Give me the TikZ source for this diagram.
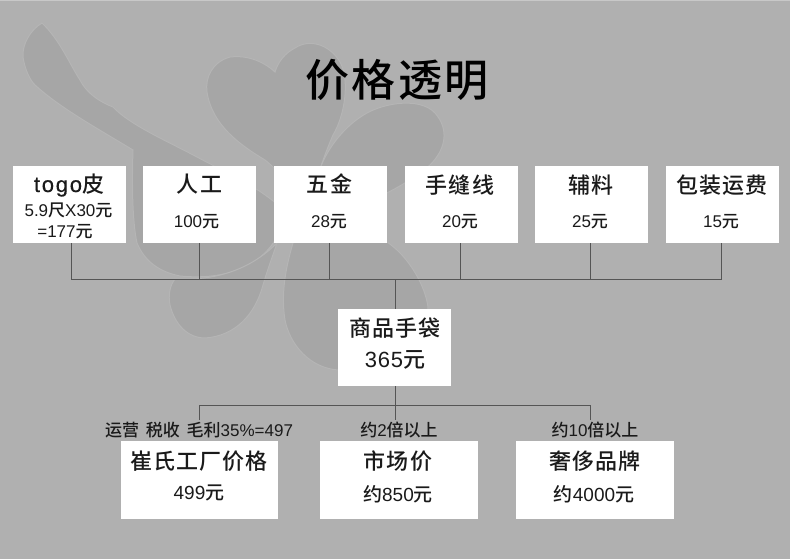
\documentclass[tikz,border=0pt]{standalone}
\usepackage{fontspec}
\setmainfont{Liberation Sans}
\newfontfamily\hz{Noto Sans CJK SC Medium}
\newfontfamily\hzs[LetterSpace=5]{Noto Sans CJK SC Medium}
\newfontfamily\latb[LetterSpace=8,FakeBold=0.4]{Liberation Sans}
\newfontfamily\lats[LetterSpace=4]{Liberation Sans}
\definecolor{bgc}{HTML}{B0B0B0}
\definecolor{wm}{HTML}{A6A6A6}
\definecolor{halo}{HTML}{B5B5B5}
\definecolor{ln}{HTML}{555555}
\definecolor{ink}{HTML}{1A1A1A}
\tikzset{
  card/.style={fill=white,draw=none,minimum width=#1,minimum height=77pt,inner sep=0pt},
  wire/.style={draw=ln,line width=0.9pt},
  big/.style={font=\fontsize{22}{24}\selectfont\hzs,text=ink},
  small/.style={font=\fontsize{17}{20}\selectfont,text=ink},
  lowtxt/.style={font=\fontsize{19}{22}\selectfont,text=ink},
  leaf/.style={fill=wm,draw=halo,line width=1pt},
}
\begin{document}
\begin{tikzpicture}[x=1pt,y=-1pt]
\useasboundingbox (0,0) rectangle (790,559);
\fill[bgc] (0,0) rectangle (790,559);
\fill[white!30!bgc] (0,0) rectangle (790,1);
% watermark: tail
\fill[leaf] (42,23) .. controls (30,30) and (22,45) .. (23,57) .. controls (25,70) and (30,80) .. (35,85)
  .. controls (60,108) and (100,130) .. (133,150) .. controls (132,180) and (132,220) .. (137,243)
  .. controls (145,262) and (160,272) .. (180,276) .. controls (220,280) and (260,270) .. (278,235)
  .. controls (280,225) and (280,215) .. (278,205) .. controls (255,185) and (225,172) .. (197,157)
  .. controls (165,140) and (130,125) .. (113,107) .. controls (95,100) and (85,90) .. (80,80)
  .. controls (70,65) and (60,40) .. (42,23) -- cycle;
% lower-left leaf
\fill[leaf] (175,279) .. controls (170,285) and (168,295) .. (170,305) .. controls (175,325) and (188,338) .. (205,338)
  .. controls (235,336) and (255,315) .. (263,285) .. controls (268,268) and (273,255) .. (277,243)
  .. controls (250,270) and (215,281) .. (175,279) -- cycle;
% top heart leaf
\fill[leaf] (275,72) .. controls (262,60) and (245,55) .. (230,57) .. controls (212,62) and (205,78) .. (207,92)
  .. controls (212,125) and (240,145) .. (265,160) .. controls (280,172) and (295,190) .. (305,215)
  .. controls (315,185) and (322,160) .. (333,135) .. controls (345,115) and (350,80) .. (340,62)
  .. controls (330,45) and (310,38) .. (295,48) .. controls (285,53) and (278,62) .. (275,72) -- cycle;
% right leaf
\fill[leaf] (318,175) .. controls (325,150) and (345,125) .. (367,113) .. controls (385,103) and (420,97) .. (435,113)
  .. controls (450,130) and (445,150) .. (430,165) .. controls (400,190) and (365,205) .. (325,215) -- cycle;
% lower-right leaf
\fill[leaf] (293,243) .. controls (285,270) and (281,295) .. (285,320) .. controls (290,345) and (310,368) .. (338,370)
  -- (350,370) .. controls (390,365) and (425,345) .. (428,307) .. controls (425,285) and (410,262) .. (397,250)
  .. controls (375,230) and (340,215) .. (325,215) .. controls (310,220) and (298,230) .. (293,243) -- cycle;
% title
\node (title) at (397,80) {\fontsize{44}{48}\selectfont\color{black}\hzs 价格透明};
% top cards
\node[card=113pt] (a) at (69.5,204.5) {};
\node[card=113pt] (b) at (199.5,204.5) {};
\node[card=113pt] (c) at (330.5,204.5) {};
\node[card=113pt] (d) at (461.5,204.5) {};
\node[card=113pt] (e) at (591.5,204.5) {};
\node[card=113pt] (f) at (722.5,204.5) {};
\node[text=ink] (at) at (69,185) {\fontsize{22}{24}\selectfont{\latb togo}{\hz 皮}};
\node[small] (a1) at (68.5,210) {5.9{\hz 尺}X30{\hz 元}};
\node[small] (a2) at (65,232) {=177{\hz 元}};
\node[big] (bt) at (199.5,184) {人工};
\node[small] (b1) at (196.5,222) {100{\hz 元}};
\node[big] (ct) at (329.5,184) {五金};
\node[small] (c1) at (329,222) {28{\hz 元}};
\node[big] (dt) at (460,185) {手缝线};
\node[small] (d1) at (460,222) {20{\hz 元}};
\node[big] (et) at (591,185) {辅料};
\node[small] (e1) at (590,222) {25{\hz 元}};
\node[big] (ft) at (722,185) {包装运费};
\node[small] (f1) at (721,222) {15{\hz 元}};
% centre card
\node[card=113pt] (m) at (394.5,347.5) {};
\node[big] (mt) at (395,328) {商品手袋};
\node[text=ink] (m1) at (395,360) {\fontsize{22}{24}\selectfont{\lats 365}{\hz 元}};
% bottom cards
\node[card=157pt,minimum height=78pt] (x) at (199.5,480) {};
\node[card=158pt,minimum height=78pt] (y) at (399,480) {};
\node[card=158pt,minimum height=78pt] (z) at (595,480) {};
\node[big] (xt) at (199,461) {崔氏工厂价格};
\node[lowtxt] (x1) at (199,493) {499{\hz 元}};
\node[big] (yt) at (398,461) {市场价};
\node[lowtxt] (y1) at (398,494) {{\hz 约}850{\hz 元}};
\node[big] (zt) at (595,461) {奢侈品牌};
\node[lowtxt] (z1) at (594,494) {{\hz 约}4000{\hz 元}};
\node[small] (nx) at (199,430) {{\hz 运营\hspace{3pt} 税收\hspace{3pt} 毛利}35\%=497};
\node[small] (ny) at (399,430) {{\hz 约}2{\hz 倍以上}};
\node[small] (nz) at (595,430) {{\hz 约}10{\hz 倍以上}};
% connectors
\coordinate (j1) at (395,279);
\coordinate (j2) at (395,405);
\draw[wire] (a.south -| 71,0) |- (j1);
\draw[wire] (f.south -| 721,0) |- (j1);
\draw[wire] (b.south -| 199,0) -- (199,279);
\draw[wire] (c.south -| 329,0) -- (329,279);
\draw[wire] (d.south -| 460,0) -- (460,279);
\draw[wire] (e.south -| 590,0) -- (590,279);
\draw[wire] (j1) -- (m.north -| j1);
\draw[wire] (m.south -| j2) -- (j2);
\draw[wire] (199,420) |- (j2);
\draw[wire] (590,420) |- (j2);
\draw[wire] (j2) -- (395,420);
\end{tikzpicture}
\end{document}
